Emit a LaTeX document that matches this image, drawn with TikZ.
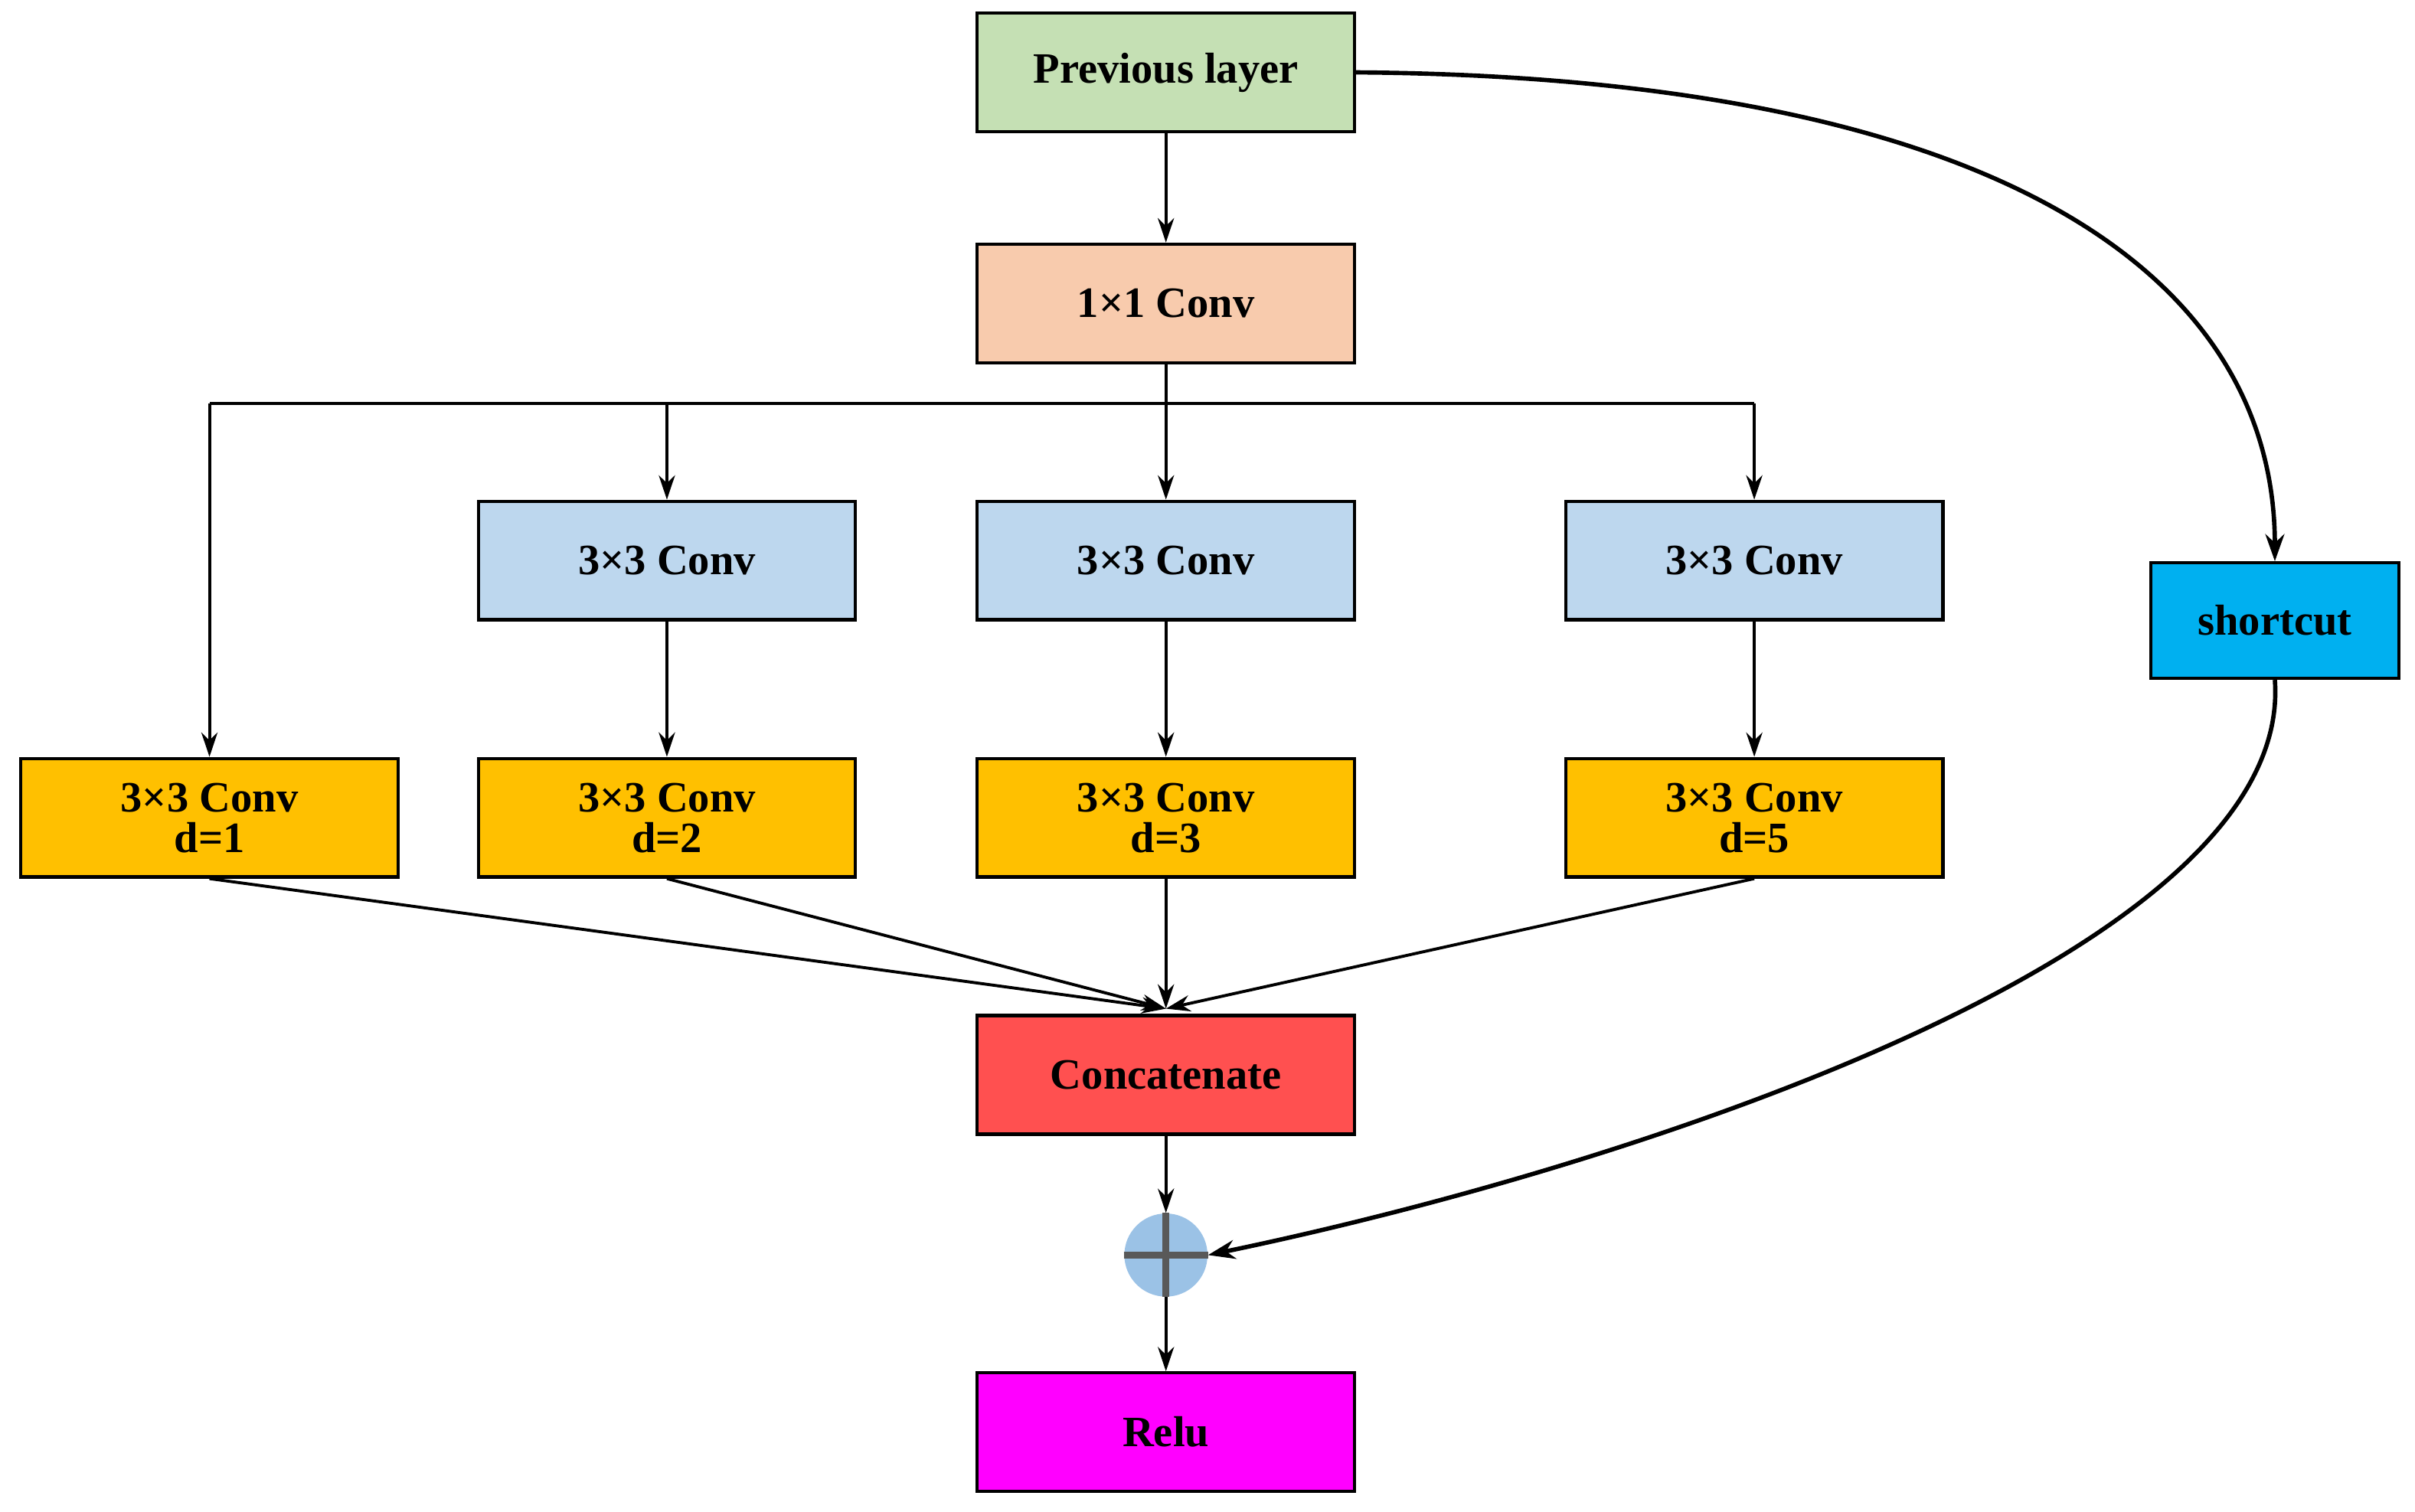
\documentclass[tikz,border=0pt]{standalone}
\usepackage{fontspec}
\setmainfont{Liberation Serif}
\usetikzlibrary{arrows.meta}
\begin{document}
\begin{tikzpicture}[x=0.02cm,y=-0.02cm,
 box/.style={draw,line width=1.2pt,minimum width=4.9cm,minimum height=1.54cm,font=\fontsize{16}{18}\selectfont\bfseries,align=center,inner sep=0pt},
 arr/.style={line width=1.1pt,-{Stealth[length=9pt,width=6pt]}},
 carr/.style={line width=1.6pt,-{Stealth[length=10pt,width=7pt]}}]
\useasboundingbox (0,0) rectangle (1568,981.5);
\definecolor{cg}{HTML}{C5E0B4}\definecolor{cp}{HTML}{F8CBAD}\definecolor{cb}{HTML}{BDD7EE}
\definecolor{cc}{HTML}{00B0F0}\definecolor{cy}{HTML}{FFC000}\definecolor{cr}{HTML}{FF5050}
\definecolor{cm}{HTML}{FF00FF}\definecolor{cl}{RGB}{155,194,230}
\node[box,fill=cg] (prev) at (757,47) {Previous layer};
\node[box,fill=cp] (c11) at (757,197) {1×1 Conv};
\node[box,fill=cb] (b2) at (433,364) {3×3 Conv};
\node[box,fill=cb] (b3) at (757,364) {3×3 Conv};
\node[box,fill=cb] (b5) at (1139,364) {3×3 Conv};
\node[box,fill=cc,minimum width=3.22cm,minimum height=1.5cm] (sc) at (1477,403) {shortcut};
\node[box,fill=cy] (y1) at (136,531) {3×3 Conv\\[-3pt]d=1};
\node[box,fill=cy] (y2) at (433,531) {3×3 Conv\\[-3pt]d=2};
\node[box,fill=cy] (y3) at (757,531) {3×3 Conv\\[-3pt]d=3};
\node[box,fill=cy] (y5) at (1139,531) {3×3 Conv\\[-3pt]d=5};
\node[box,fill=cr] (cat) at (757,698) {Concatenate};
\node[circle,fill=cl,minimum size=1.08cm,inner sep=0pt] (plus) at (757,815) {};
\draw[line width=2.5pt,black!65] (plus.west)--(plus.east) (plus.north)--(plus.south);
\node[box,fill=cm] (relu) at (757,930) {Relu};
\coordinate (j) at (757,262);
\draw[arr] (prev)--(c11);
\draw[line width=1.1pt] (c11.south)--(j);
\draw[line width=1.1pt] (136,262)--(1139,262);
\draw[arr] (j)--(b3);
\draw[arr] (b2.north|-j)--(b2);
\draw[arr] (b5.north|-j)--(b5);
\draw[arr] (y1.north|-j)--(y1);
\draw[arr] (b2)--(y2);\draw[arr] (b3)--(y3);\draw[arr] (b5)--(y5);
\coordinate (m) at (757,655);
\draw[arr] (y1.south)--(m);\draw[arr] (y2.south)--(m);\draw[arr] (y3.south)--(m);\draw[arr] (y5.south)--(m);
\draw[arr] (cat)--(plus);
\draw[arr] (plus)--(relu);
\draw[carr] (prev.east) .. controls (1300,50) and (1477,180) .. (sc.north);
\draw[carr] (sc.south) .. controls (1490,620) and (1050,760) .. (plus.east);
\end{tikzpicture}
\end{document}
